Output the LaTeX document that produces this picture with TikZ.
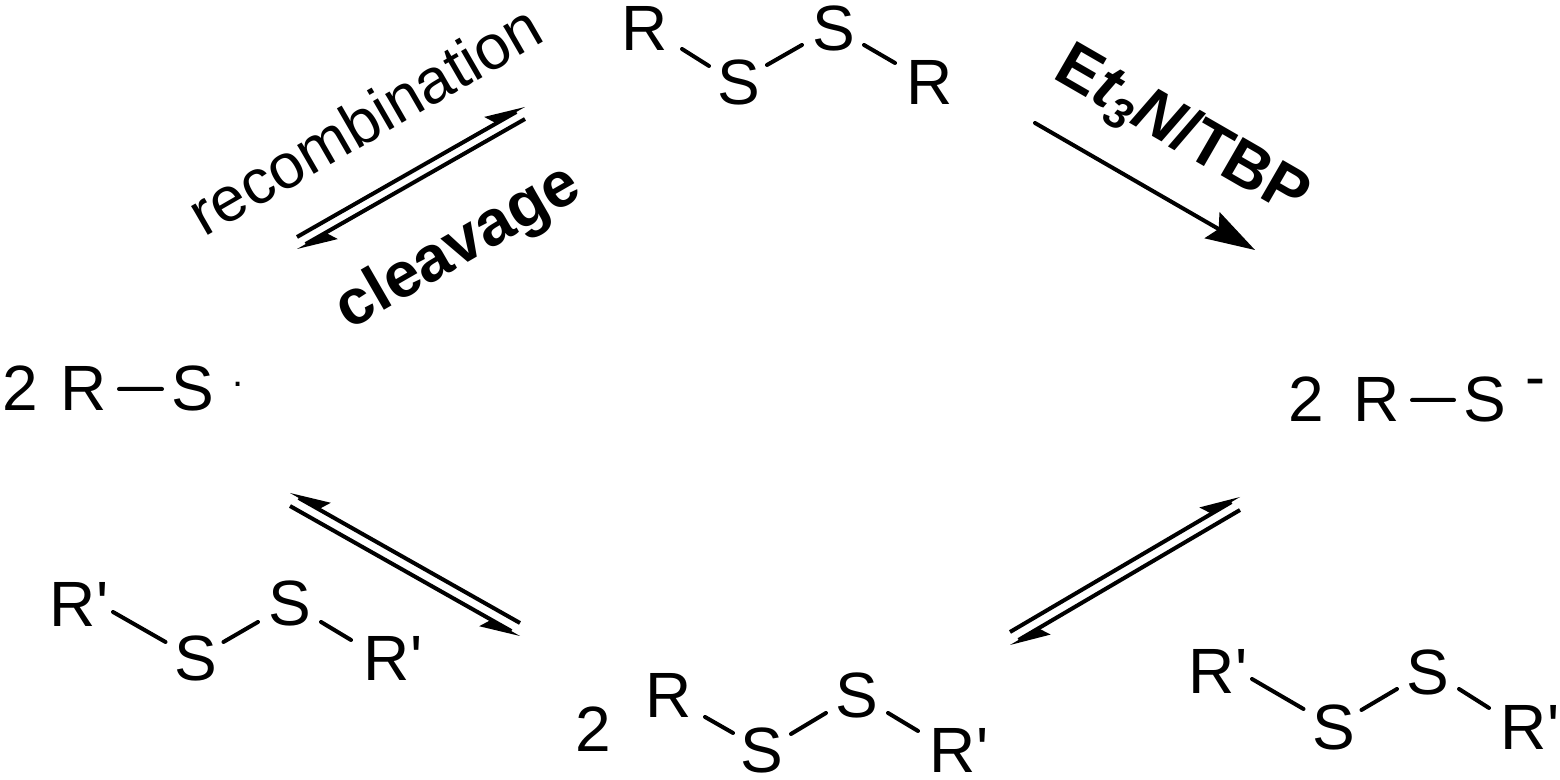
\documentclass[tikz,border=0pt]{standalone}
\usepackage{fontspec}
\setmainfont{Liberation Sans}
\newfontfamily\primefont{Liberation Sans}
\usetikzlibrary{calc}
\newcommand{\eqhalf}[3]{%
  \draw[arrowline,shorten >=5pt] (#1) -- (#2);
  \fill (#2) -- ($(#2)!21pt!#3:(#1)$) -- ($(#2)!16.5pt!(#1)$) -- cycle;
}
\newcommand{\prm}{\rlap{\primefont\char39 }}
\tikzset{
  atom/.style={inner sep=0pt,outer sep=0pt,anchor=base,font=\fontsize{32}{32}\selectfont},
  bondline/.style={line width=2pt,line cap=round},
  arrowline/.style={line width=2pt},
  lab/.style={inner sep=0pt,outer sep=0pt,anchor=base}
}
\begin{document}
\begin{tikzpicture}[x=0.5pt,y=-0.5pt]
\useasboundingbox (0,0) rectangle (1560,780);
% top molecule
\node[atom] (t1) at (645,51) {R};
\node[atom] (t2) at (739,105) {S};
\node[atom] (t3) at (834,51) {S};
\node[atom] (t4) at (930,105) {R};
\draw[bondline] ([shift={(37,20)}]t1.center) -- ([shift={(-30,-17)}]t2.center);
\draw[bondline] ([shift={(28,-18)}]t2.center) -- ([shift={(-32,16)}]t3.center);
\draw[bondline] ([shift={(30,16)}]t3.center) -- ([shift={(-35,-20)}]t4.center);
% left radical
\node[atom] (l0) at (20,411) {2};
\node[atom] (l1) at (84,411) {R};
\node[atom] (l2) at (193,411) {S};
\node[lab,font=\fontsize{20}{20}\selectfont] (ldot) at (238,387) {.};
\draw[bondline] ([shift={(35,0)}]l1.center) -- ([shift={(-31,0)}]l2.center);
% right anion
\node[atom] (r0) at (1306,422) {2};
\node[atom] (r1) at (1377,422) {R};
\node[atom] (r2) at (1485,422) {S};
\node[lab,font=\fontsize{30}{30}\selectfont] (rminus) at (1535,398) {-};
\draw[bondline] ([shift={(35,0)}]r1.center) -- ([shift={(-31,0)}]r2.center);
% bottom-left molecule
\node[atom] (a1) at (73,627) {R\prm};
\node[atom] (a2) at (195.5,681) {S};
\node[atom] (a3) at (290,626) {S};
\node[atom] (a4) at (387,681) {R\prm};
\draw[bondline] ([shift={(40,7)}]a1.center) -- ([shift={(-30,-17)}]a2.center);
\draw[bondline] ([shift={(28,-17)}]a2.center) -- ([shift={(-32,18)}]a3.center);
\draw[bondline] ([shift={(31,18)}]a3.center) -- ([shift={(-36,-19)}]a4.center);
% bottom-middle molecule
\node[atom] (m0) at (593,752) {2};
\node[atom] (m1) at (669,718) {R};
\node[atom] (m2) at (762,773) {S};
\node[atom] (m3) at (857,718) {S};
\node[atom] (m4) at (953,773) {R\prm};
\draw[bondline] ([shift={(36,21)}]m1.center) -- ([shift={(-29,-18)}]m2.center);
\draw[bondline] ([shift={(29,-17)}]m2.center) -- ([shift={(-31,17)}]m3.center);
\draw[bondline] ([shift={(31,17)}]m3.center) -- ([shift={(-35,-20)}]m4.center);
% bottom-right molecule
\node[atom] (b1) at (1212,694) {R\prm};
\node[atom] (b2) at (1333.5,749) {S};
\node[atom] (b3) at (1428,695) {S};
\node[atom] (b4) at (1524,749) {R\prm};
\draw[bondline] ([shift={(40,7)}]b1.center) -- ([shift={(-30,-18)}]b2.center);
\draw[bondline] ([shift={(28,-17)}]b2.center) -- ([shift={(-31,16)}]b3.center);
\draw[bondline] ([shift={(31,16)}]b3.center) -- ([shift={(-35,-19)}]b4.center);
% arrow end points
\coordinate (p1) at (297,237); \coordinate (p2) at (525,107);
\coordinate (p3) at (525,119); \coordinate (p4) at (297,249);
\coordinate (q1) at (520,623); \coordinate (q2) at (290,493);
\coordinate (q3) at (290,506); \coordinate (q4) at (520,636);
\coordinate (s1) at (1010,632); \coordinate (s2) at (1240,497);
\coordinate (s3) at (1240,510); \coordinate (s4) at (1010,645);
\coordinate (e1) at (1035,123); \coordinate (e2) at (1255,250);
\eqhalf{p1}{p2}{-16}
\eqhalf{p3}{p4}{-16}
\eqhalf{q1}{q2}{16}
\eqhalf{q3}{q4}{16}
\eqhalf{s1}{s2}{-16}
\eqhalf{s3}{s4}{-16}
\draw[arrowline,line cap=round,shorten >=10pt] (e1) -- (e2);
\fill (e2) -- ($(e2)!26pt!-17:(e1)$) -- ($(e2)!21pt!(e1)$) -- ($(e2)!26pt!17:(e1)$) -- cycle;
% labels
\node[lab,rotate=30,font=\fontsize{31.5}{31.5}\selectfont] (recomb) at (376,139) {recombination};
\node[lab,rotate=30,font=\fontsize{32}{32}\selectfont\bfseries] (cleav) at (467,263) {cleavage};
\node[lab,rotate=-30,font=\fontsize{32}{32}\selectfont\bfseries] (etn) at (1173,148) {E{\itshape t\raisebox{-6pt}{\fontsize{22}{22}\selectfont 3}N}/TBP};
\end{tikzpicture}
\end{document}
